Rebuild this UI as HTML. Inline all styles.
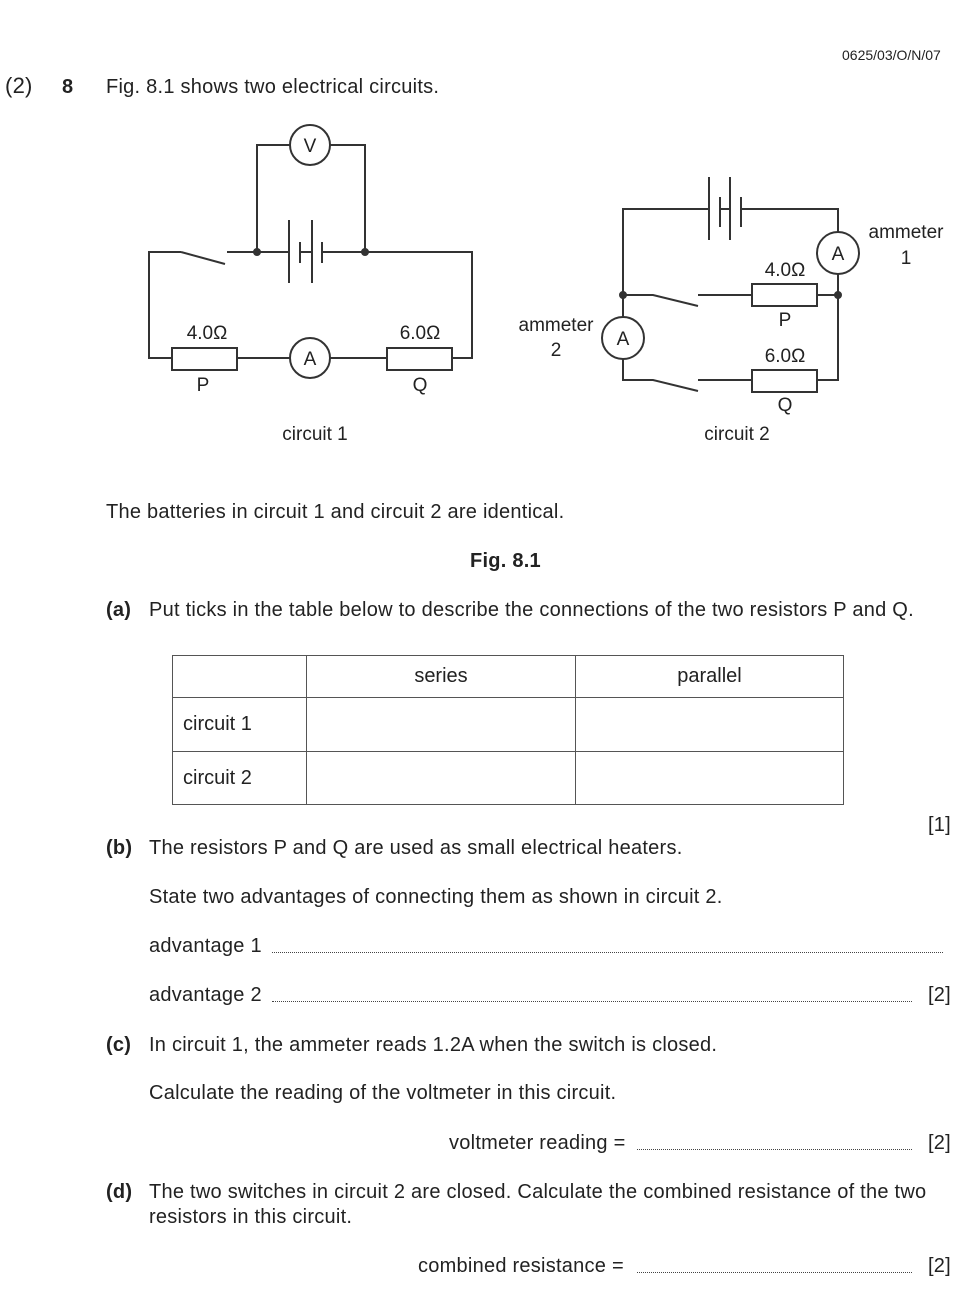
<!DOCTYPE html>
<html><head><meta charset="utf-8"><style>
body{margin:0;background:#fff;width:975px;height:1314px;position:relative;font-family:"Liberation Sans",sans-serif;color:#222;overflow:hidden}
.t{position:absolute;font-size:20px;letter-spacing:0.25px;white-space:nowrap}
.b{font-weight:bold}
.d{position:absolute;height:0;border-bottom:1.5px dotted #444}
table{position:absolute;left:172px;top:655px;border-collapse:collapse;table-layout:fixed;width:671px}
td{border:1.5px solid #555;font-size:20px;padding:0 0 0 10px}
</style></head><body>
<div class="t" style="left:842px;top:47px;font-size:14px;letter-spacing:0">0625/03/O/N/07</div>
<div class="t" style="left:5px;top:73px;font-size:22px">(2)</div>
<div class="t b" style="left:62px;top:76px">8</div>
<div class="t" style="left:106px;top:76px">Fig. 8.1 shows two electrical circuits.</div>

<svg width="975" height="470" style="position:absolute;left:0;top:0" font-family="Liberation Sans, sans-serif" font-size="19" fill="none" stroke="#333" stroke-width="2">
<path d="M181 252 H149 V358 H172 M237 358 H290 M330 358 H387 M452 358 H472 V252 H322 M312 252 H300 M289 252 H227 M181 252 L225 264 M257 252 V145 H290 M330 145 H365 V252"/>
<path d="M289 220 V283 M312 220 V283 M300 242 V263 M322 242 V263"/>
<rect x="172" y="348" width="65" height="22"/><rect x="387" y="348" width="65" height="22"/>
<circle cx="310" cy="145" r="20"/><circle cx="310" cy="358" r="20"/>
<circle cx="257" cy="252" r="3" fill="#333"/><circle cx="365" cy="252" r="3" fill="#333"/>
<path d="M709 209 H623 V317 M623 359 V380 H653 L698 391 M698 380 H752 M817 380 H838 V274 M838 232 V209 H741 M730 209 H720 M623 295 H653 L698 306 M698 295 H752 M817 295 H838"/>
<path d="M709 177 V240 M730 177 V240 M720 197 V227 M741 197 V227"/>
<rect x="752" y="284" width="65" height="22"/><rect x="752" y="370" width="65" height="22"/>
<circle cx="838" cy="253" r="21"/><circle cx="623" cy="338" r="21"/>
<circle cx="623" cy="295" r="3" fill="#333"/><circle cx="838" cy="295" r="3" fill="#333"/>
<g fill="#222" stroke="none" text-anchor="middle">
<text x="310" y="152">V</text><text x="310" y="365">A</text>
<text x="207" y="339">4.0Ω</text><text x="203" y="391">P</text>
<text x="420" y="339">6.0Ω</text><text x="420" y="391">Q</text>
<text x="315" y="440">circuit 1</text>
<text x="838" y="260">A</text><text x="623" y="345">A</text>
<text x="785" y="276">4.0Ω</text><text x="785" y="326">P</text>
<text x="785" y="362">6.0Ω</text><text x="785" y="411">Q</text>
<text x="906" y="238">ammeter</text><text x="906" y="264">1</text>
<text x="556" y="331">ammeter</text><text x="556" y="356">2</text>
<text x="737" y="440">circuit 2</text>
</g>
</svg>

<div class="t" style="left:106px;top:501px">The batteries in circuit 1 and circuit 2 are identical.</div>
<div class="t b" style="left:470px;top:550px">Fig. 8.1</div>
<div class="t b" style="left:106px;top:599px">(a)</div>
<div class="t" style="left:149px;top:599px">Put ticks in the table below to describe the connections of the two resistors P and Q.</div>
<table>
<colgroup><col style="width:134px"><col style="width:269px"><col style="width:268px"></colgroup>
<tr style="height:42px"><td></td><td style="text-align:center;padding:0">series</td><td style="text-align:center;padding:0">parallel</td></tr>
<tr style="height:54px"><td>circuit 1</td><td></td><td></td></tr>
<tr style="height:53px"><td>circuit 2</td><td></td><td></td></tr>
</table>
<div class="t" style="left:928px;top:814px">[1]</div>
<div class="t b" style="left:106px;top:837px">(b)</div>
<div class="t" style="left:149px;top:837px">The resistors P and Q are used as small electrical heaters.</div>
<div class="t" style="left:149px;top:886px">State two advantages of connecting them as shown in circuit 2.</div>
<div class="t" style="left:149px;top:935px">advantage 1</div><div class="d" style="left:272px;width:671px;top:952px"></div>
<div class="t" style="left:149px;top:984px">advantage 2</div><div class="d" style="left:272px;width:640px;top:1001px"></div>
<div class="t" style="left:928px;top:984px">[2]</div>
<div class="t b" style="left:106px;top:1034px">(c)</div>
<div class="t" style="left:149px;top:1034px">In circuit 1, the ammeter reads 1.2A when the switch is closed.</div>
<div class="t" style="left:149px;top:1082px">Calculate the reading of the voltmeter in this circuit.</div>
<div class="t" style="left:449px;top:1132px">voltmeter reading =</div><div class="d" style="left:637px;width:275px;top:1149px"></div>
<div class="t" style="left:928px;top:1132px">[2]</div>
<div class="t b" style="left:106px;top:1181px">(d)</div>
<div class="t" style="left:149px;top:1181px">The two switches in circuit 2 are closed. Calculate the combined resistance of the two</div>
<div class="t" style="left:149px;top:1206px">resistors in this circuit.</div>
<div class="t" style="left:418px;top:1255px">combined resistance =</div><div class="d" style="left:637px;width:275px;top:1272px"></div>
<div class="t" style="left:928px;top:1255px">[2]</div>
</body></html>
